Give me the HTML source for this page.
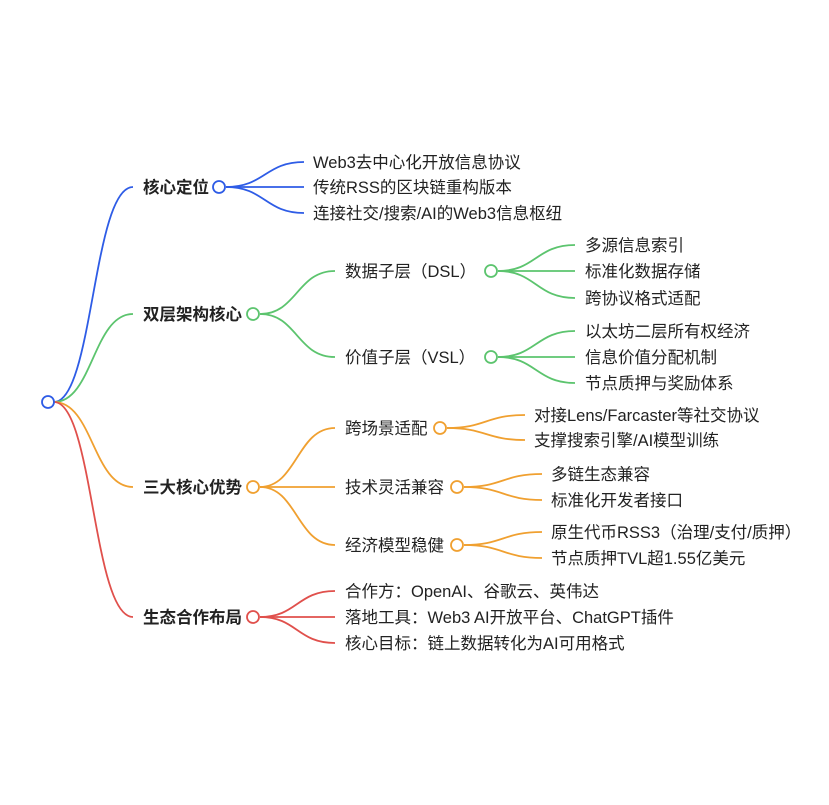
<!DOCTYPE html>
<html><head><meta charset="utf-8"><style>
html,body{margin:0;padding:0;background:#fff;}
svg text{font-family:"Liberation Sans","Noto Sans CJK SC",sans-serif;font-size:16.5px;fill:#222;}
.b{font-weight:bold;}
path{fill:none;stroke-width:1.8;}
circle{fill:#fff;stroke-width:1.8;}
.bl{stroke:#2e5ce6}.gr{stroke:#5cc46e}.or{stroke:#f0a030}.rd{stroke:#e0504c}
</style></head><body>
<svg width="829" height="800" viewBox="0 0 829 800">
<path class="bl" d="M54 402 C93 402 93 187 133 187"/>
<path class="gr" d="M54 402 C93 402 93 314 133 314"/>
<path class="or" d="M54 402 C93 402 93 487 133 487"/>
<path class="rd" d="M54 402 C93 402 93 617 133 617"/>
<path class="bl" d="M226 187 C265 187 265 162 304 162"/>
<path class="bl" d="M226 187 L304 187"/>
<path class="bl" d="M226 187 C265 187 265 213 304 213"/>
<path class="gr" d="M260 314 C297 314 297 271 335 271"/>
<path class="gr" d="M260 314 C297 314 297 357 335 357"/>
<path class="gr" d="M498 271 C536 271 536 245 575 245"/>
<path class="gr" d="M498 271 L575 271"/>
<path class="gr" d="M498 271 C536 271 536 298 575 298"/>
<path class="gr" d="M498 357 C536 357 536 331 575 331"/>
<path class="gr" d="M498 357 L575 357"/>
<path class="gr" d="M498 357 C536 357 536 383 575 383"/>
<path class="or" d="M260 487 C297 487 297 428 335 428"/>
<path class="or" d="M260 487 L335 487"/>
<path class="or" d="M260 487 C297 487 297 545 335 545"/>
<path class="or" d="M447 428 C486 428 486 415 525 415"/>
<path class="or" d="M447 428 C486 428 486 440 525 440"/>
<path class="or" d="M464 487 C503 487 503 474 542 474"/>
<path class="or" d="M464 487 C503 487 503 500 542 500"/>
<path class="or" d="M464 545 C503 545 503 532 542 532"/>
<path class="or" d="M464 545 C503 545 503 558 542 558"/>
<path class="rd" d="M260 617 C297 617 297 591 335 591"/>
<path class="rd" d="M260 617 L335 617"/>
<path class="rd" d="M260 617 C297 617 297 643 335 643"/>
<circle class="bl" cx="48" cy="402" r="6"/>
<circle class="bl" cx="219" cy="187" r="6"/>
<circle class="gr" cx="253" cy="314" r="6"/>
<circle class="or" cx="253" cy="487" r="6"/>
<circle class="rd" cx="253" cy="617" r="6"/>
<circle class="gr" cx="491" cy="271" r="6"/>
<circle class="gr" cx="491" cy="357" r="6"/>
<circle class="or" cx="440" cy="428" r="6"/>
<circle class="or" cx="457" cy="487" r="6"/>
<circle class="or" cx="457" cy="545" r="6"/>
<text class="b" x="143" y="193">核心定位</text>
<text class="b" x="143" y="320">双层架构核心</text>
<text class="b" x="143" y="493">三大核心优势</text>
<text class="b" x="143" y="623">生态合作布局</text>
<text x="313" y="168">Web3去中心化开放信息协议</text>
<text x="313" y="193">传统RSS的区块链重构版本</text>
<text x="313" y="219">连接社交/搜索/AI的Web3信息枢纽</text>
<text x="345" y="277">数据子层（DSL）</text>
<text x="345" y="363">价值子层（VSL）</text>
<text x="585" y="251">多源信息索引</text>
<text x="585" y="277">标准化数据存储</text>
<text x="585" y="304">跨协议格式适配</text>
<text x="585" y="337">以太坊二层所有权经济</text>
<text x="585" y="363">信息价值分配机制</text>
<text x="585" y="389">节点质押与奖励体系</text>
<text x="345" y="434">跨场景适配</text>
<text x="345" y="493">技术灵活兼容</text>
<text x="345" y="551">经济模型稳健</text>
<text x="534" y="421">对接Lens/Farcaster等社交协议</text>
<text x="534" y="446">支撑搜索引擎/AI模型训练</text>
<text x="551" y="480">多链生态兼容</text>
<text x="551" y="506">标准化开发者接口</text>
<text x="551" y="538">原生代币RSS3（治理/支付/质押）</text>
<text x="551" y="564">节点质押TVL超1.55亿美元</text>
<text x="345" y="597">合作方：OpenAI、谷歌云、英伟达</text>
<text x="345" y="623">落地工具：Web3 AI开放平台、ChatGPT插件</text>
<text x="345" y="649">核心目标：链上数据转化为AI可用格式</text>
</svg>
</body></html>
